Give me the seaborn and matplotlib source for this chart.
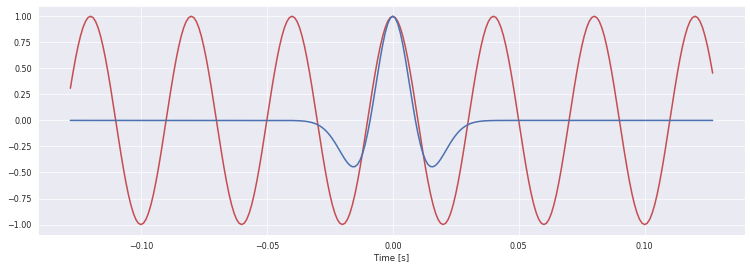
import numpy as np
import pandas as pd
import matplotlib
matplotlib.use("Agg")
import matplotlib.pyplot as plt
import seaborn as sns

# sample index (ms) -> time in seconds, 1 kHz sampling
time = np.arange(-128, 128) / 1000.0

# 25 Hz carrier (cosine)
carrier = [
    0.309, 0.454, 0.5878, 0.7071, 0.809, 0.891, 0.9511, 0.9877,
    1.0, 0.9877, 0.9511, 0.891, 0.809, 0.7071, 0.5878, 0.454, 0.309, 0.1564, 0.0, -0.1564, -0.309, -0.454, -0.5878, -0.7071, -0.809, -0.891, -0.9511, -0.9877, -1.0, -0.9877, -0.9511, -0.891, -0.809, -0.7071, -0.5878, -0.454, -0.309, -0.1564, 0.0, 0.1564, 0.309, 0.454, 0.5878, 0.7071, 0.809, 0.891, 0.9511, 0.9877,
    1.0, 0.9877, 0.9511, 0.891, 0.809, 0.7071, 0.5878, 0.454, 0.309, 0.1564, 0.0, -0.1564, -0.309, -0.454, -0.5878, -0.7071, -0.809, -0.891, -0.9511, -0.9877, -1.0, -0.9877, -0.9511, -0.891, -0.809, -0.7071, -0.5878, -0.454, -0.309, -0.1564, 0.0, 0.1564, 0.309, 0.454, 0.5878, 0.7071, 0.809, 0.891, 0.9511, 0.9877,
    1.0, 0.9877, 0.9511, 0.891, 0.809, 0.7071, 0.5878, 0.454, 0.309, 0.1564, 0.0, -0.1564, -0.309, -0.454, -0.5878, -0.7071, -0.809, -0.891, -0.9511, -0.9877, -1.0, -0.9877, -0.9511, -0.891, -0.809, -0.7071, -0.5878, -0.454, -0.309, -0.1564, 0.0, 0.1564, 0.309, 0.454, 0.5878, 0.7071, 0.809, 0.891, 0.9511, 0.9877,
    1.0, 0.9877, 0.9511, 0.891, 0.809, 0.7071, 0.5878, 0.454, 0.309, 0.1564, 0.0, -0.1564, -0.309, -0.454, -0.5878, -0.7071, -0.809, -0.891, -0.9511, -0.9877, -1.0, -0.9877, -0.9511, -0.891, -0.809, -0.7071, -0.5878, -0.454, -0.309, -0.1564, 0.0, 0.1564, 0.309, 0.454, 0.5878, 0.7071, 0.809, 0.891, 0.9511, 0.9877,
    1.0, 0.9877, 0.9511, 0.891, 0.809, 0.7071, 0.5878, 0.454, 0.309, 0.1564, 0.0, -0.1564, -0.309, -0.454, -0.5878, -0.7071, -0.809, -0.891, -0.9511, -0.9877, -1.0, -0.9877, -0.9511, -0.891, -0.809, -0.7071, -0.5878, -0.454, -0.309, -0.1564, 0.0, 0.1564, 0.309, 0.454, 0.5878, 0.7071, 0.809, 0.891, 0.9511, 0.9877,
    1.0, 0.9877, 0.9511, 0.891, 0.809, 0.7071, 0.5878, 0.454, 0.309, 0.1564, 0.0, -0.1564, -0.309, -0.454, -0.5878, -0.7071, -0.809, -0.891, -0.9511, -0.9877, -1.0, -0.9877, -0.9511, -0.891, -0.809, -0.7071, -0.5878, -0.454, -0.309, -0.1564, 0.0, 0.1564, 0.309, 0.454, 0.5878, 0.7071, 0.809, 0.891, 0.9511, 0.9877,
    1.0, 0.9877, 0.9511, 0.891, 0.809, 0.7071, 0.5878, 0.454,
]

# 25 Hz Ricker wavelet
wavelet = [
    0.0, 0.0, 0.0, 0.0, 0.0, 0.0, 0.0, 0.0, 0.0, 0.0,
    0.0, 0.0, 0.0, 0.0, 0.0, 0.0, 0.0, 0.0, 0.0, 0.0,
    0.0, 0.0, 0.0, 0.0, 0.0, 0.0, 0.0, 0.0, 0.0, 0.0,
    0.0, 0.0, 0.0, 0.0, 0.0, 0.0, 0.0, 0.0, 0.0, 0.0,
    0.0, 0.0, 0.0, 0.0, 0.0, 0.0, 0.0, 0.0, 0.0, 0.0,
    0.0, 0.0, 0.0, 0.0, 0.0, 0.0, 0.0, 0.0, 0.0, 0.0,
    0.0, 0.0, 0.0, 0.0, 0.0, 0.0, 0.0, 0.0, 0.0, 0.0,
    0.0, 0.0, 0.0, 0.0, 0.0, 0.0, 0.0, 0.0, 0.0, 0.0,
    0.0, 0.0, 0.0, 0.0, 0.0, 0.0,
    -0.0004, -0.0006, -0.001, -0.0015, -0.0023, -0.0034, -0.0051, -0.0074, -0.0106, -0.015,
    -0.021, -0.0289, -0.0392, -0.0524, -0.0688, -0.0891, -0.1134, -0.142, -0.1749, -0.2115,
    -0.2511, -0.2924, -0.3337, -0.3726, -0.4062, -0.4315, -0.4449, -0.4433, -0.4233, -0.3825,
    -0.3194, -0.2336, -0.1261, 0.0004, 0.1418, 0.2923, 0.4452, 0.5927, 0.7272, 0.841,
    0.9275, 0.9816,
    1.0,
    0.9816, 0.9275,
    0.841, 0.7272, 0.5927, 0.4452, 0.2923, 0.1418, 0.0004, -0.1261, -0.2336, -0.3194,
    -0.3825, -0.4233, -0.4433, -0.4449, -0.4315, -0.4062, -0.3726, -0.3337, -0.2924, -0.2511,
    -0.2115, -0.1749, -0.142, -0.1134, -0.0891, -0.0688, -0.0524, -0.0392, -0.0289, -0.021,
    -0.015, -0.0106, -0.0074, -0.0051, -0.0034, -0.0023, -0.0015, -0.001, -0.0006, -0.0004,
    0.0, 0.0, 0.0, 0.0, 0.0, 0.0, 0.0, 0.0, 0.0, 0.0,
    0.0, 0.0, 0.0, 0.0, 0.0, 0.0, 0.0, 0.0, 0.0, 0.0,
    0.0, 0.0, 0.0, 0.0, 0.0, 0.0, 0.0, 0.0, 0.0, 0.0,
    0.0, 0.0, 0.0, 0.0, 0.0, 0.0, 0.0, 0.0, 0.0, 0.0,
    0.0, 0.0, 0.0, 0.0, 0.0, 0.0, 0.0, 0.0, 0.0, 0.0,
    0.0, 0.0, 0.0, 0.0, 0.0, 0.0, 0.0, 0.0, 0.0, 0.0,
    0.0, 0.0, 0.0, 0.0, 0.0, 0.0, 0.0, 0.0, 0.0, 0.0,
    0.0, 0.0, 0.0, 0.0, 0.0, 0.0, 0.0, 0.0, 0.0, 0.0,
    0.0, 0.0, 0.0, 0.0, 0.0,
]

sns.set_theme(style="darkgrid")
pal = sns.color_palette("deep")

df = pd.DataFrame({"time": time, "carrier": carrier, "wavelet": wavelet})

fig, ax = plt.subplots(figsize=(15, 5.34), dpi=50)
sns.lineplot(data=df, x="time", y="carrier", color=pal[3], ax=ax, sort=False, linewidth=2.2)
sns.lineplot(data=df, x="time", y="wavelet", color=pal[0], ax=ax, sort=False, linewidth=2.2)
ax.set_xlabel("Time [s]", fontsize=12.5)
ax.set_ylabel("")
ax.tick_params(labelsize=11.5)
fig.subplots_adjust(left=0.051, right=0.993, top=0.978, bottom=0.12)
fig.savefig("out.png", dpi=50)
